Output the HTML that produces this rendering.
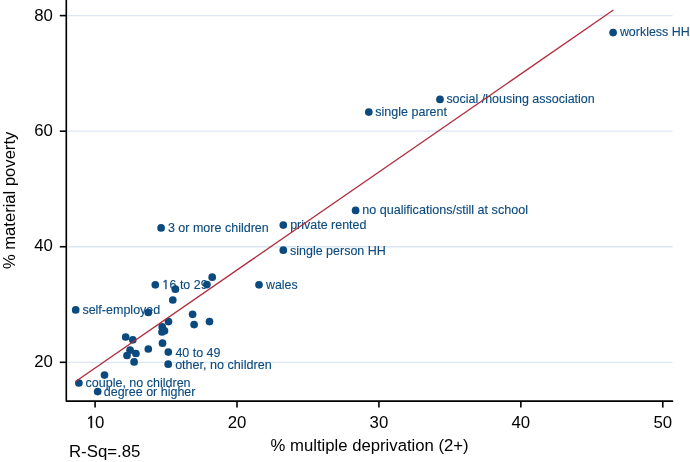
<!DOCTYPE html><html><head><meta charset="utf-8"><style>html,body{margin:0;padding:0;background:#fff;}svg{display:block;}text{font-family:"Liberation Sans",Arial,sans-serif;stroke-width:0.12px;}</style></head><body>
<svg width="690" height="462" viewBox="0 0 690 462">
<rect width="690" height="462" fill="#fff"/>
<line x1="68" y1="362.30" x2="672.5" y2="362.30" stroke="#dbe6f3" stroke-width="1.3"/>
<line x1="68" y1="246.73" x2="672.5" y2="246.73" stroke="#dbe6f3" stroke-width="1.3"/>
<line x1="68" y1="131.17" x2="672.5" y2="131.17" stroke="#dbe6f3" stroke-width="1.3"/>
<line x1="68" y1="15.60" x2="672.5" y2="15.60" stroke="#dbe6f3" stroke-width="1.3"/>
<path d="M66.3,-2 L66.3,401.05 L672.6,401.05" fill="none" stroke="#000" stroke-width="1.65" stroke-linejoin="round" stroke-linecap="round"/>
<line x1="59.8" y1="362.30" x2="66" y2="362.30" stroke="#000" stroke-width="1.6"/>
<text x="52.9" y="367.20" font-size="16.8" text-anchor="end" fill="#000">20</text>
<line x1="59.8" y1="246.73" x2="66" y2="246.73" stroke="#000" stroke-width="1.6"/>
<text x="52.9" y="250.83" font-size="16.8" text-anchor="end" fill="#000">40</text>
<line x1="59.8" y1="131.17" x2="66" y2="131.17" stroke="#000" stroke-width="1.6"/>
<text x="52.9" y="135.56" font-size="16.8" text-anchor="end" fill="#000">60</text>
<line x1="59.8" y1="15.60" x2="66" y2="15.60" stroke="#000" stroke-width="1.6"/>
<text x="52.9" y="20.90" font-size="16.8" text-anchor="end" fill="#000">80</text>
<line x1="95.07" y1="401.5" x2="95.07" y2="407.6" stroke="#000" stroke-width="1.6"/>
<text x="95.07" y="428" font-size="16.8" text-anchor="middle" fill="#000"><tspan font-family="NanumGothic" stroke="#000" stroke-width="0.45">1</tspan><tspan dx="-0.83">0</tspan></text>
<line x1="237.00" y1="401.5" x2="237.00" y2="407.6" stroke="#000" stroke-width="1.6"/>
<text x="237.00" y="428" font-size="16.8" text-anchor="middle" fill="#000">20</text>
<line x1="378.93" y1="401.5" x2="378.93" y2="407.6" stroke="#000" stroke-width="1.6"/>
<text x="378.93" y="428" font-size="16.8" text-anchor="middle" fill="#000">30</text>
<line x1="520.86" y1="401.5" x2="520.86" y2="407.6" stroke="#000" stroke-width="1.6"/>
<text x="520.86" y="428" font-size="16.8" text-anchor="middle" fill="#000">40</text>
<line x1="662.79" y1="401.5" x2="662.79" y2="407.6" stroke="#000" stroke-width="1.6"/>
<text x="662.79" y="428" font-size="16.8" text-anchor="middle" fill="#000">50</text>
<text x="369.6" y="450.6" font-size="16.7" text-anchor="middle" fill="#000">% multiple deprivation (2+)</text>
<text x="69.0" y="457.0" font-size="16.8" fill="#000">R-Sq=.85</text>
<text transform="translate(14.5,200.4) rotate(-90)" x="0" y="0" font-size="16.6" text-anchor="middle" fill="#000">% material poverty</text>
<circle cx="175.4" cy="289.2" r="3.85" fill="#0b4a7e"/>
<circle cx="172.8" cy="300.0" r="3.85" fill="#0b4a7e"/>
<circle cx="206.9" cy="284.6" r="3.85" fill="#0b4a7e"/>
<circle cx="212.2" cy="277.2" r="3.85" fill="#0b4a7e"/>
<circle cx="148.3" cy="312.5" r="3.85" fill="#0b4a7e"/>
<circle cx="192.6" cy="314.3" r="3.85" fill="#0b4a7e"/>
<circle cx="168.5" cy="321.6" r="3.85" fill="#0b4a7e"/>
<circle cx="194.1" cy="324.6" r="3.85" fill="#0b4a7e"/>
<circle cx="209.5" cy="321.6" r="3.85" fill="#0b4a7e"/>
<circle cx="162.2" cy="326.9" r="3.85" fill="#0b4a7e"/>
<circle cx="164.5" cy="330.8" r="3.85" fill="#0b4a7e"/>
<circle cx="162.0" cy="332.0" r="3.85" fill="#0b4a7e"/>
<circle cx="125.7" cy="337.0" r="3.85" fill="#0b4a7e"/>
<circle cx="132.8" cy="339.8" r="3.85" fill="#0b4a7e"/>
<circle cx="162.5" cy="343.2" r="3.85" fill="#0b4a7e"/>
<circle cx="148.3" cy="349.0" r="3.85" fill="#0b4a7e"/>
<circle cx="130.1" cy="350.2" r="3.85" fill="#0b4a7e"/>
<circle cx="127.0" cy="355.5" r="3.85" fill="#0b4a7e"/>
<circle cx="135.9" cy="353.5" r="3.85" fill="#0b4a7e"/>
<circle cx="134.1" cy="361.9" r="3.85" fill="#0b4a7e"/>
<circle cx="104.5" cy="375.1" r="3.85" fill="#0b4a7e"/>
<circle cx="613.1" cy="32.6" r="3.85" fill="#0b4a7e"/>
<circle cx="440.0" cy="99.4" r="3.85" fill="#0b4a7e"/>
<circle cx="368.8" cy="112.1" r="3.85" fill="#0b4a7e"/>
<circle cx="355.6" cy="210.4" r="3.85" fill="#0b4a7e"/>
<circle cx="283.3" cy="225.1" r="3.85" fill="#0b4a7e"/>
<circle cx="161.1" cy="227.9" r="3.85" fill="#0b4a7e"/>
<circle cx="283.3" cy="250.2" r="3.85" fill="#0b4a7e"/>
<circle cx="155.3" cy="284.8" r="3.85" fill="#0b4a7e"/>
<circle cx="259.0" cy="284.8" r="3.85" fill="#0b4a7e"/>
<circle cx="75.7" cy="309.9" r="3.85" fill="#0b4a7e"/>
<circle cx="168.3" cy="352.1" r="3.85" fill="#0b4a7e"/>
<circle cx="168.2" cy="364.2" r="3.85" fill="#0b4a7e"/>
<circle cx="78.9" cy="383.0" r="3.85" fill="#0b4a7e"/>
<circle cx="97.7" cy="391.6" r="3.85" fill="#0b4a7e"/>
<text x="619.89" y="36.10" font-size="12.45" fill="#0b4a7e" stroke="#0b4a7e">workless HH</text>
<text x="446.38" y="102.90" font-size="12.475" fill="#0b4a7e" stroke="#0b4a7e">social /housing association</text>
<text x="375.28" y="115.90" font-size="12.545" fill="#0b4a7e" stroke="#0b4a7e">single parent</text>
<text x="362.25" y="213.90" font-size="12.58" fill="#0b4a7e" stroke="#0b4a7e">no qualifications/still at school</text>
<text x="290.17" y="229.10" font-size="12.475" fill="#0b4a7e" stroke="#0b4a7e">private rented</text>
<text x="167.89" y="232.10" font-size="12.535" fill="#0b4a7e" stroke="#0b4a7e">3 or more children</text>
<text x="289.98" y="254.50" font-size="12.51" fill="#0b4a7e" stroke="#0b4a7e">single person HH</text>
<text x="161.70" y="289.10" font-size="12.45" fill="#0b4a7e" stroke="#0b4a7e"><tspan font-family="NanumGothic" stroke-width="0.4">1</tspan><tspan dx="0.28">6 to 29</tspan></text>
<text x="266.10" y="289.00" font-size="12.35" fill="#0b4a7e" stroke="#0b4a7e">wales</text>
<text x="82.38" y="314.30" font-size="12.52" fill="#0b4a7e" stroke="#0b4a7e">self-employed</text>
<text x="175.39" y="357.00" font-size="12.475" fill="#0b4a7e" stroke="#0b4a7e">40 to 49</text>
<text x="175.14" y="369.10" font-size="12.59" fill="#0b4a7e" stroke="#0b4a7e">other, no children</text>
<text x="85.52" y="386.60" font-size="12.52" fill="#0b4a7e" stroke="#0b4a7e">couple, no children</text>
<text x="103.75" y="395.60" font-size="12.5" fill="#0b4a7e" stroke="#0b4a7e">degree or higher</text>
<line x1="75.6" y1="381.5" x2="613.4" y2="10.05" stroke="#b02c3e" stroke-width="1.3"/>
</svg></body></html>
